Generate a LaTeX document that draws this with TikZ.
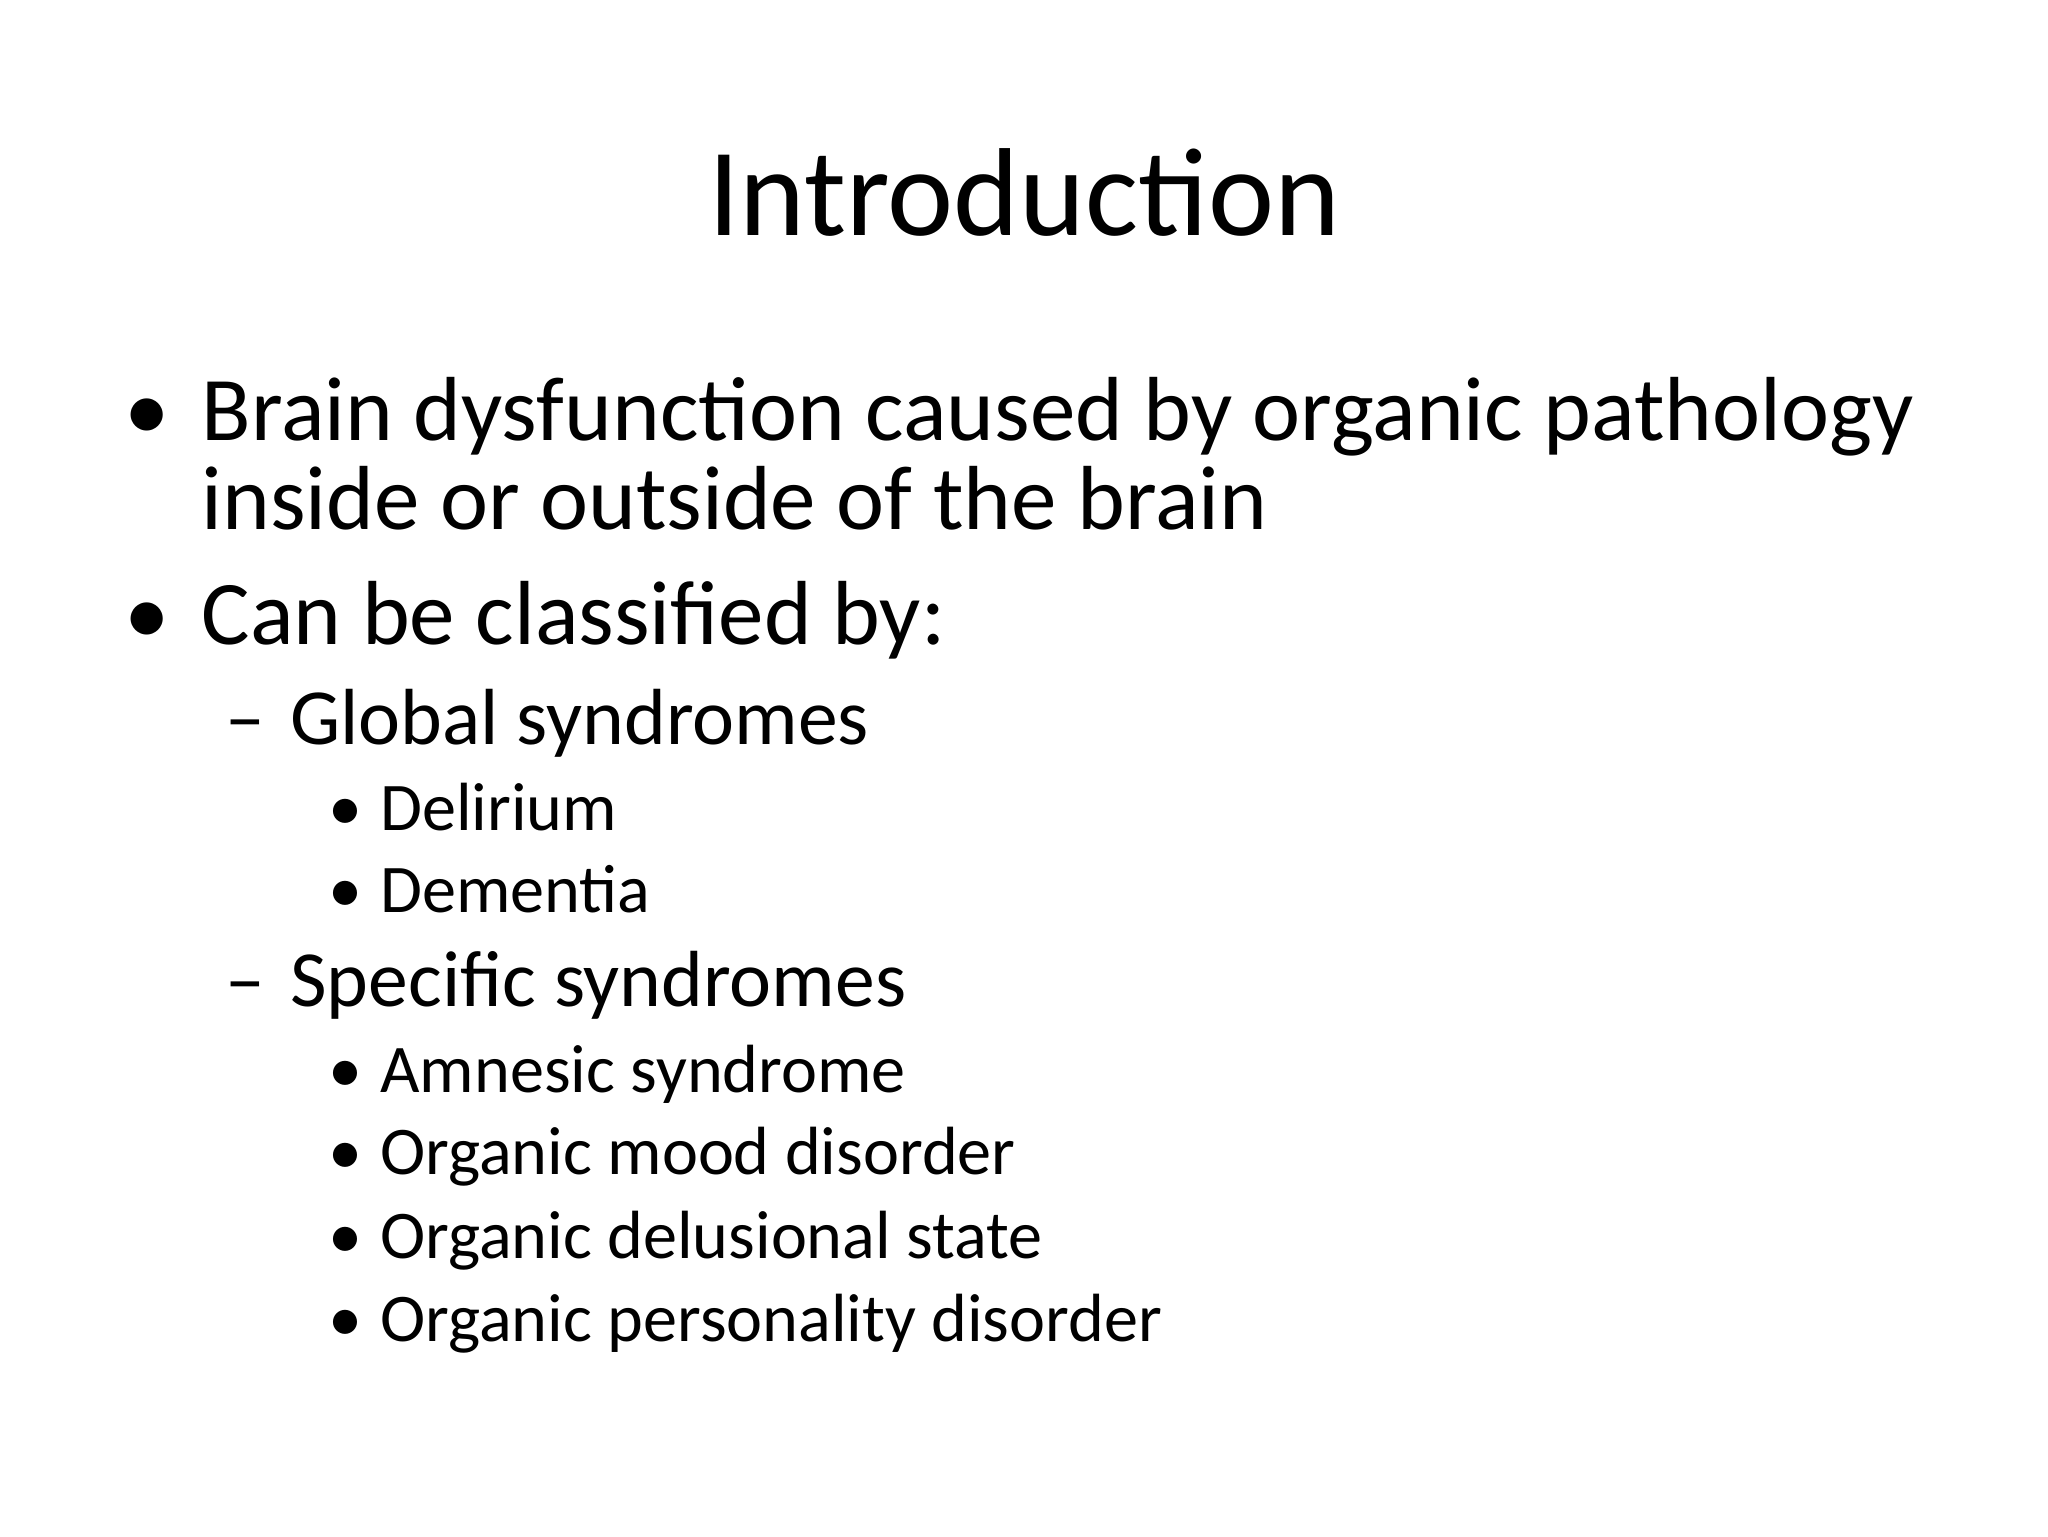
\documentclass[tikz,border=0pt]{standalone}
\usepackage{fontspec}
\setmainfont{Carlito}
\begin{document}
\begin{tikzpicture}[x=1pt,y=1pt,
 t1/.style={anchor=base west,inner sep=0,font=\fontsize{45.5}{50}\selectfont},
 t2/.style={anchor=base west,inner sep=0,font=\fontsize{39.8}{44}\selectfont},
 t3/.style={anchor=base west,inner sep=0,font=\fontsize{34.1}{38}\selectfont}]
\useasboundingbox (0,0) rectangle (1024,-768);
\node[anchor=base,inner sep=0,font=\fontsize{62.6}{70}\selectfont] (title) at (512,-117.5) {Introduction};
\node[t1] (b1) at (62,-220) {•};
\node[t1] (l1) at (100.6,-220) {Brain dysfunction caused by organic pathology};
\node[t1] (l1b) at (100.6,-264.5) {inside or outside of the brain};
\node[t1] (b2) at (62,-322) {•};
\node[t1] (l2) at (100.6,-322) {Can be classified by:};
\node[t2] (d1) at (112.3,-372) {–};
\node[t2] (g) at (145,-372) {Global syndromes};
\node[t3] (b3) at (164,-415) {•};
\node[t3] (del) at (190,-415) {Delirium};
\node[t3] (b4) at (164,-456) {•};
\node[t3] (dem) at (190,-456) {Dementia};
\node[t2] (d2) at (112.3,-503) {–};
\node[t2] (s) at (145,-503) {Specific syndromes};
\node[t3] (b5) at (164,-546) {•};
\node[t3] (a) at (190,-546) {Amnesic syndrome};
\node[t3] (b6) at (164,-587) {•};
\node[t3] (m) at (190,-587) {Organic mood disorder};
\node[t3] (b7) at (164,-629) {•};
\node[t3] (dl) at (190,-629) {Organic delusional state};
\node[t3] (b8) at (164,-670.6) {•};
\node[t3] (p) at (190,-670.6) {Organic personality disorder};
\end{tikzpicture}
\end{document}
